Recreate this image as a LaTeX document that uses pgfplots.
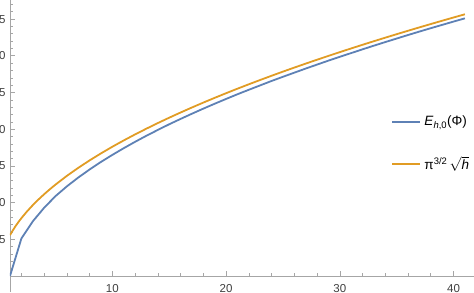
\documentclass[border=0pt]{standalone}
\usepackage{pgfplots}
\pgfplotsset{compat=1.18}
\usepackage{fontspec}
\setmainfont{Liberation Sans}
\definecolor{mblue}{HTML}{5E81B5}
\definecolor{morange}{HTML}{E19C24}
\definecolor{axgray}{HTML}{A6A6A6}
\begin{document}
\begin{tikzpicture}
\clip (-10pt,0pt) rectangle (464pt,292pt);
\begin{axis}[
  at={(0,0)}, anchor=south west,
  scale only axis, width=464pt, height=292pt,
  xmin=1, xmax=41.8, ymin=-2.18, ymax=37.6,
  axis x line=middle, axis y line=left,
  axis line style={-, draw=axgray, line width=0.7pt},
  every tick/.style={axgray, line width=0.6pt},
  tick align=inside,
  major tick length=5pt, minor tick length=3pt,
  xtick={10,20,30,40},
  minor xtick={2,4,6,8,12,14,16,18,22,24,26,28,32,34,36,38},
  ytick={5,10,15,20,25,30,35},
  minor ytick={1,2,3,4,6,7,8,9,11,12,13,14,16,17,18,19,21,22,23,24,26,27,28,29,31,32,33,34,36,37},
  tick label style={font=\fontsize{11.5}{13}\selectfont, text=black!75},
  /pgf/number format/assume math mode=true,
  xticklabel style={yshift=-5pt},
  yticklabel style={xshift=-1pt},
  legend style={draw=none, fill=none, at={(0.821,0.508)}, anchor=west, inner sep=0pt,
    font=\fontsize{13.5}{16}\selectfont, row sep=22pt, nodes={inner sep=3.5pt}},
  legend cell align=left,
  legend image code/.code={\draw[#1] (0pt,0pt) -- (28pt,0pt);},
]
\addplot[mblue, line width=1.8pt] coordinates {
(1,0) (2,5.10) (3,7.44) (4,9.29) (5,10.88) (6,12.21) (7,13.41) (8,14.51) (9,15.54) (10,16.50)
(11,17.41) (12,18.28) (13,19.11) (14,19.90) (15,20.67) (16,21.40) (17,22.11) (18,22.80) (19,23.47) (20,24.12)
(21,24.76) (22,25.37) (23,25.97) (24,26.57) (25,27.14) (26,27.70) (27,28.26) (28,28.80) (29,29.34) (30,29.86)
(31,30.37) (32,30.88) (33,31.38) (34,31.87) (35,32.35) (36,32.83) (37,33.30) (38,33.76) (39,34.21) (40,34.66)
(41,35.10)
};
\addlegendentry{\textit{E}\textsubscript{\textit{h},0}(Φ)}
\addplot[morange, line width=1.8pt] coordinates {
(1,5.568) (1.25,6.226) (1.5,6.820) (1.75,7.366) (2,7.875) (2.5,8.804) (3,9.645) (3.5,10.417) (4,11.137) (4.5,11.812) (5,12.451)
(6,13.640) (7,14.733) (8,15.749) (9,16.705) (10,17.609)
(11,18.468) (12,19.289) (13,20.077) (14,20.835) (15,21.566) (16,22.273) (17,22.959) (18,23.624) (19,24.272) (20,24.902)
(21,25.517) (22,26.118) (23,26.704) (24,27.279) (25,27.842) (26,28.393) (27,28.934) (28,29.465) (29,29.986) (30,30.499)
(31,31.003) (32,31.499) (33,31.988) (34,32.469) (35,32.942) (36,33.410) (37,33.871) (38,34.325) (39,34.774) (40,35.217)
(41,35.654)
};
\addlegendentry{π\textsuperscript{3/2}\,$\sqrt{\textit{h}}$}
\end{axis}
\end{tikzpicture}
\end{document}
